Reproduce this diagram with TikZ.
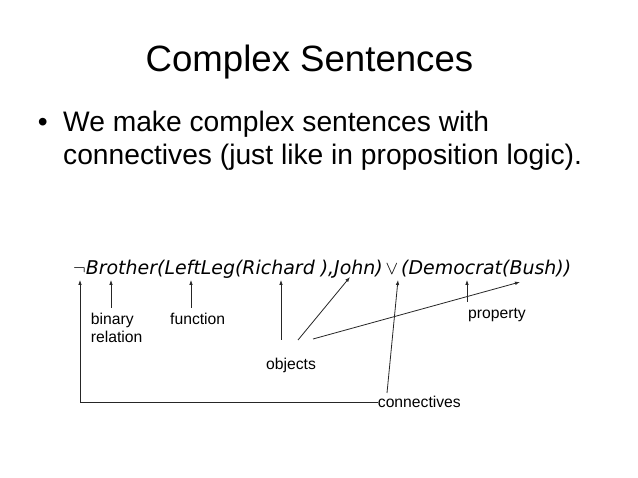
\documentclass[tikz,border=0pt]{standalone}
\usepackage{graphicx}
\usepackage{fontspec}
\setmainfont{Liberation Sans}
\newfontfamily\formfont{DejaVu Sans}
\usetikzlibrary{arrows.meta}
\begin{document}
\begin{tikzpicture}[x=1pt,y=-1pt,
  titlefont/.style={font=\fontsize{36.6}{42}\selectfont},
  bodyfont/.style={font=\fontsize{28.2}{34}\selectfont},
  lbl/.style={font=\fontsize{15.7}{18}\selectfont, inner sep=0pt, align=left},
  arr/.style={-{Latex[length=5pt,width=3.6pt]}, line width=0.8pt, black!85}
]
\useasboundingbox[fill=white] (0,0) rectangle (638,478);
\node[titlefont, anchor=base west, inner sep=0pt] (title) at (145.5,71.7) {Complex Sentences};
\node[bodyfont, anchor=base west, inner sep=0pt] (l1) at (63,131.7) {We make complex sentences with};
\node[bodyfont, anchor=base west, inner sep=0pt] (l2) at (63,165) {connectives (just like in proposition logic).};
\node[bodyfont, anchor=base, inner sep=0pt] (bul) at (42.7,131.7) {•};
\node[anchor=base west, inner sep=0pt] (formula) at (73,274.5)
  {\resizebox{498pt}{!}{\formfont\itshape $\neg$Brother(LeftLeg(Richard ),John)\kern1.5pt$\vee$\kern1.5pt(Democrat(Bush))}};
% labels
\node[lbl, anchor=base west] (binrel) at (90.7,343) {binary\\relation};
\node[lbl, anchor=base west] (func) at (170,325) {function};
\node[lbl, anchor=base west] (obj) at (266,370) {objects};
\node[lbl, anchor=base west] (prop) at (468,319) {property};
\node[lbl, anchor=base west] (conn) at (377.7,408) {connectives};
% arrow tips in the formula
\coordinate (tNeg) at (80,280);
\coordinate (tBro) at (111,280);
\coordinate (tLeft) at (191,280);
\coordinate (tRich) at (281,280);
\coordinate (tJohn) at (350,277);
\coordinate (tOr) at (398,280);
\coordinate (tDem) at (467,280);
\coordinate (tBush) at (520,282);
% arrow starts
\coordinate (sBin) at (111,308);
\coordinate (sFun) at (191,308);
\coordinate (sObj1) at (281,340);
\coordinate (sObj2) at (298,340);
\coordinate (sObj3) at (313,339);
\coordinate (sProp) at (467,302);
\coordinate (sConn) at (387,393);
% connectors
\draw[arr] (sBin) -- (tBro);
\draw[arr] (sFun) -- (tLeft);
\draw[arr] (sObj1) -- (tRich);
\draw[arr] (sObj2) -- (tJohn);
\draw[arr] (sObj3) -- (tBush);
\draw[arr] (sProp) -- (tDem);
\draw[arr] (sConn) -- (tOr);
\draw[arr] (conn.west) -| (tNeg);
\end{tikzpicture}
\end{document}
